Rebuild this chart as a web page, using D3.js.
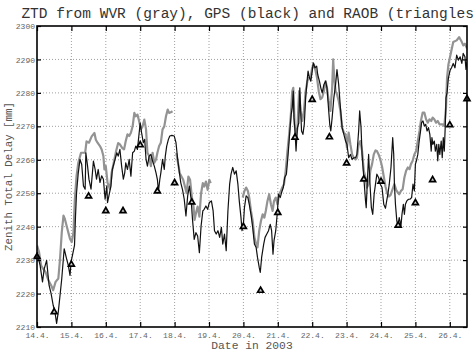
<!DOCTYPE html>
<html>
<head>
<meta charset="utf-8">
<script src="https://cdn.jsdelivr.net/npm/d3@7"></script>
<style>
  body { margin: 0; background: #fff; }
  svg { display: block; }
  text { font-family: "Liberation Mono", "DejaVu Sans Mono", monospace; }
</style>
</head>
<body>
<svg width="474" height="353"></svg>
<script>
// days since 14.4.2003 00:00, ZTD in mm
const gpsDays = [0.00,0.09,0.16,0.21,0.28,0.35,0.41,0.47,0.52,0.57,0.62,0.67,0.72,0.79,0.86,0.91,0.96,0.99,1.03,1.09,1.12,1.15,1.20,1.25,1.30,1.35,1.40,1.42,1.47,1.51,1.57,1.64,1.69,1.73,1.78,1.83,1.88,1.93,1.98,2.03,2.05,2.09,2.15,2.19,2.27,2.32,2.36,2.41,2.46,2.51,2.55,2.58,2.63,2.68,2.73,2.78,2.83,2.87,2.92,2.97,3.00,3.04,3.09,3.13,3.17,3.21,3.26,3.31,3.36,3.41,3.46,3.50,3.53,3.57,3.60,3.65,3.70,3.73,3.77,3.82,3.86,3.92,3.99,4.04,4.09,4.14,4.18,4.23,4.28,4.33,4.38,4.43,4.48,4.52,4.57,4.62,4.67,4.72,4.77,4.82,4.86,4.91,4.96,5.01,5.07,5.12,5.16,5.21,5.26,5.31,5.36,5.40,5.45,5.50,5.55,5.60,5.64,5.69,5.74,5.79,5.84,5.88,5.93,5.96,6.00,6.03,6.08,6.13,6.17,6.22,6.27,6.32,6.37,6.41,6.46,6.49,6.53,6.59,6.63,6.68,6.73,6.78,6.82,6.86,6.89,6.94,6.99,7.02,7.07,7.11,7.16,7.20,7.25,7.30,7.35,7.39,7.42,7.45,7.47,7.50,7.53,7.57,7.61,7.64,7.66,7.69,7.73,7.77,7.81,7.86,7.88,7.92,7.96,8.00,8.03,8.08,8.13,8.16,8.21,8.25,8.29,8.34,8.39,8.43,8.48,8.51,8.54,8.58,8.63,8.68,8.72,8.77,8.82,8.87,8.92,8.97,9.01,9.06,9.11,9.16,9.21,9.26,9.30,9.35,9.38,9.42,9.45,9.50,9.55,9.57,9.60,9.64,9.68,9.72,9.76,9.80,9.84,9.88,9.93,9.98,10.03,10.08,10.13,10.17,10.20,10.24,10.29,10.34,10.37,10.39,10.42,10.46,10.49,10.53,10.58,10.61,10.65,10.68,10.71,10.75,10.80,10.84,10.89,10.93,10.97,11.00,11.03,11.07,11.11,11.15,11.18,11.22,11.26,11.30,11.34,11.38,11.42,11.46,11.48,11.51,11.55,11.58,11.62,11.65,11.68,11.71,11.75,11.78,11.81,11.84,11.87,11.89,11.92,11.96,12.01,12.05,12.10,12.15,12.20,12.25,12.30,12.35,12.39,12.44,12.47,12.50];
const gpsZtd = [2232.4,2228.4,2223.5,2227.4,2229.9,2222.5,2220.0,2216.5,2214.6,2211.1,2214.6,2219.5,2224.5,2233.4,2230.4,2228.4,2225.4,2229.4,2231.4,2234.4,2243.3,2250.2,2256.1,2260.1,2258.6,2252.2,2251.2,2262.1,2258.1,2254.2,2251.2,2259.6,2257.1,2254.2,2257.1,2253.2,2255.2,2254.2,2248.2,2252.2,2247.2,2249.2,2252.2,2257.1,2260.1,2262.1,2261.1,2263.1,2258.1,2254.2,2256.1,2259.1,2257.1,2260.1,2255.1,2262.1,2262.6,2264.1,2263.1,2268.1,2271.0,2268.1,2265.1,2266.1,2260.1,2258.1,2261.1,2261.6,2259.6,2258.1,2256.1,2254.1,2250.6,2254.1,2256.1,2260.1,2257.1,2261.1,2264.1,2266.1,2267.1,2267.3,2267.1,2265.1,2260.1,2256.1,2253.1,2251.1,2248.2,2243.2,2249.2,2252.1,2248.2,2242.2,2236.2,2238.2,2237.2,2232.2,2240.2,2244.7,2245.2,2246.2,2245.2,2247.2,2247.7,2244.7,2238.8,2237.8,2238.8,2236.8,2239.8,2234.8,2237.8,2232.8,2244.7,2252.7,2255.7,2257.7,2255.7,2256.7,2252.7,2247.7,2242.7,2238.8,2240.7,2245.7,2249.2,2248.7,2246.7,2243.7,2239.8,2234.8,2233.8,2230.8,2227.8,2226.3,2230.8,2234.8,2236.8,2237.8,2238.8,2240.7,2238.8,2231.8,2235.8,2238.8,2244.7,2249.7,2248.7,2250.2,2251.7,2254.7,2255.7,2261.6,2268.6,2273.6,2275.6,2280.5,2272.6,2268.6,2262.6,2269.6,2271.0,2281.5,2276.0,2268.6,2267.6,2270.6,2278.6,2284.5,2286.5,2284.5,2283.5,2286.5,2289.0,2287.5,2288.0,2285.5,2283.5,2281.5,2280.0,2282.5,2283.5,2281.5,2274.6,2270.6,2268.6,2272.6,2278.6,2282.5,2287.0,2282.5,2275.6,2269.6,2267.6,2265.6,2264.6,2260.6,2261.6,2260.1,2260.6,2260.6,2261.6,2268.6,2274.6,2269.6,2261.6,2254.7,2247.7,2245.7,2252.7,2261.6,2252.7,2245.7,2243.7,2249.7,2252.7,2255.7,2254.7,2252.7,2251.7,2246.7,2245.5,2248.0,2249.7,2252.7,2257.7,2266.6,2261.6,2252.7,2246.7,2241.7,2240.2,2242.7,2240.2,2243.7,2246.7,2243.7,2246.7,2247.7,2248.2,2248.2,2248.7,2252.7,2250.7,2258.7,2259.7,2261.6,2265.6,2268.6,2271.1,2271.6,2270.1,2270.6,2268.6,2269.6,2267.6,2262.6,2266.6,2264.6,2265.6,2262.6,2264.6,2259.7,2264.6,2261.6,2265.6,2260.6,2266.6,2262.6,2270.6,2278.6,2280.0,2284.5,2286.8,2287.5,2288.8,2287.5,2291.3,2289.8,2290.8,2288.8,2291.8,2290.8,2287.0,2289.3];

// WVR has data gaps (null)
const wvrDays = [0.00,0.06,0.12,0.18,0.25,0.33,0.41,0.47,0.54,0.62,0.67,0.72,0.77,0.81,0.86,0.91,0.96,1.01,1.06,1.10,1.15,1.20,1.28,1.35,1.40,1.44,1.51,1.59,1.67,1.71,1.76,1.83,1.88,1.93,1.96,2.00,2.05,2.12,2.17,2.24,2.30,2.36,2.41,2.48,2.53,2.58,2.63,2.68,2.73,2.78,2.83,2.87,2.92,2.97,3.02,3.07,3.12,3.17,3.21,3.26,3.31,3.36,3.41,3.46,3.50,3.55,3.60,3.65,3.70,3.75,3.80,3.84,3.89,3.94,3.99,4.05,4.10,4.15,4.20,4.25,4.30,4.35,4.40,4.45,4.50,4.55,4.58,4.62,4.67,4.72,4.77,4.82,4.86,4.91,4.96,5.01,5.05,5.50,5.98,6.03,6.08,6.13,6.17,6.22,6.27,6.32,6.37,6.41,6.46,6.51,6.56,6.61,6.65,6.70,6.75,6.80,6.85,6.89,6.94,6.99,7.04,7.09,7.13,7.18,7.23,7.28,7.33,7.38,7.42,7.45,7.49,7.53,7.57,7.62,7.66,7.71,7.76,7.81,7.86,7.90,7.95,8.00,8.05,8.10,8.14,8.19,8.24,8.29,8.34,8.39,8.43,8.48,8.53,8.58,8.61,8.64,8.68,8.72,8.77,8.82,8.87,8.92,8.97,9.01,9.06,9.11,9.16,9.21,9.26,9.30,9.35,9.40,9.45,9.50,9.55,9.59,9.64,9.69,9.74,9.79,9.84,9.88,9.93,9.98,10.03,10.08,10.13,10.18,10.23,10.28,10.33,10.39,10.44,10.49,10.53,10.58,10.63,10.68,10.73,10.78,10.83,10.87,10.92,10.97,11.02,11.07,11.12,11.16,11.21,11.26,11.31,11.36,11.41,11.46,11.50,11.55,11.60,11.65,11.70,11.75,11.79,11.84,11.89,11.92,11.96,12.05,12.10,12.20,12.27,12.35,12.39,12.44,12.50];
const wvrZtd = [2234.4,2232.4,2228.4,2227.4,2226.4,2224.0,2222.5,2221.0,2223.5,2224.5,2230.4,2238.3,2243.3,2242.3,2240.3,2238.3,2236.3,2235.4,2238.3,2248.2,2255.2,2259.1,2262.1,2262.1,2262.1,2265.5,2265.1,2267.0,2268.0,2266.0,2265.1,2264.1,2263.1,2261.1,2257.1,2258.1,2253.2,2251.2,2256.1,2259.6,2262.6,2265.0,2264.6,2263.5,2263.1,2265.6,2267.6,2267.1,2268.1,2270.0,2274.0,2273.0,2273.5,2271.5,2269.1,2270.0,2272.0,2269.1,2262.1,2261.1,2258.1,2262.1,2259.1,2260.1,2262.1,2264.1,2265.1,2269.1,2270.0,2273.0,2275.0,2274.0,2274.2,2274.5,null,2262.0,2259.0,2256.0,2255.0,2254.0,2252.0,2250.0,2255.0,2254.0,2249.0,2246.0,2242.0,2244.0,2246.0,2243.0,2250.0,2253.0,2252.0,2253.5,2251.0,2254.0,2253.0,null,2248.7,2250.7,2251.7,2250.7,2248.7,2244.7,2241.7,2236.8,2234.8,2233.8,2238.8,2241.7,2243.7,2242.7,2244.7,2247.7,2249.7,2246.7,2244.7,2247.7,2248.7,2246.7,2249.7,2250.7,2251.7,2252.7,2256.7,2262.6,2267.6,2273.6,2280.5,2281.5,2270.6,2266.6,2269.6,2280.5,2274.6,2271.6,2274.6,2280.5,2283.5,2284.5,2284.5,2287.5,2288.5,2286.5,2284.5,2280.5,2278.1,2278.6,2280.5,2283.5,2281.5,2277.6,2274.6,2281.5,2290.0,2284.5,2280.5,2279.6,2277.6,2274.6,2269.6,2268.1,2267.6,2263.6,2268.1,2264.6,2261.6,2260.6,2260.1,2260.6,2264.6,2265.6,2262.6,2256.7,2254.7,2251.7,2252.7,2256.7,2258.7,2261.6,2262.8,2262.6,2261.6,2260.1,2258.0,2255.0,2252.0,2250.0,2249.0,2249.5,2251.0,2252.7,2251.0,2250.2,2249.7,2250.7,2251.2,2254.7,2256.7,2257.7,2257.2,2258.7,2259.7,2261.6,2262.6,2265.6,2268.6,2271.6,2274.1,2274.1,2272.1,2271.1,2272.1,2271.6,2272.6,2272.1,2271.1,2271.6,2270.6,2270.6,2270.6,2270.1,2275.6,2284.5,2288.5,2292.8,2295.2,2295.7,2296.7,2295.2,2294.2,2294.7,2293.3];

const raobDays = [0,0.5,1,1.5,2,2.5,3,3.5,4,4.5,6,6.5,7,7.5,8,8.5,9,9.5,10,10.5,11,11.5,12,12.5];
const raobZtd = [2231.0,2214.5,2228.7,2249.1,2244.7,2244.7,2264.4,2250.6,2253.1,2247.3,2240.0,2220.9,2244.2,2266.7,2278.0,2266.8,2259.0,2254.2,2253.5,2240.4,2247.1,2254.0,2270.4,2278.2];

const dayTicks = [0,1,2,3,4,5,6,7,8,9,10,11,12];
const dayLabels = ["14.4.","15.4.","16.4.","17.4.","18.4.","19.4.","20.4.","21.4.","22.4.","23.4.","24.4.","25.4.","26.4."];
const ztdTicks = [2210,2220,2230,2240,2250,2260,2270,2280,2290,2300];

const svg = d3.select("svg");
const plotLeft = 37, plotRight = 467, plotTop = 26, plotBottom = 327;

const x = d3.scaleLinear().domain([0, 12.5]).range([plotLeft, plotRight]);
const y = d3.scaleLinear().domain([2210, 2300]).range([plotBottom, plotTop]);

svg.append("rect").attr("width", 474).attr("height", 353).attr("fill", "#fff");

// dotted grid
svg.append("g").selectAll("line").data(dayTicks.slice(1)).enter().append("line")
  .attr("x1", d => x(d)).attr("x2", d => x(d))
  .attr("y1", plotTop).attr("y2", plotBottom)
  .attr("stroke", "#888").attr("stroke-width", 0.8).attr("stroke-dasharray", "1,2");
svg.append("g").selectAll("line").data(ztdTicks.slice(1, -1)).enter().append("line")
  .attr("x1", plotLeft).attr("x2", plotRight)
  .attr("y1", d => y(d)).attr("y2", d => y(d))
  .attr("stroke", "#888").attr("stroke-width", 0.8).attr("stroke-dasharray", "1,2");

svg.append("clipPath").attr("id", "plotclip").append("rect")
  .attr("x", plotLeft).attr("y", plotTop)
  .attr("width", plotRight - plotLeft).attr("height", plotBottom - plotTop);

const wvr = wvrDays.map((d, i) => [d, wvrZtd[i]]);
const gps = gpsDays.map((d, i) => [d, gpsZtd[i]]);

const line = d3.line()
  .defined(d => d[1] != null)
  .x(d => x(d[0]))
  .y(d => y(d[1]));

svg.append("path").datum(wvr)
  .attr("clip-path", "url(#plotclip)")
  .attr("d", line)
  .attr("fill", "none")
  .attr("stroke", "#939393")
  .attr("stroke-width", 2.2)
  .attr("stroke-linejoin", "round");

svg.append("path").datum(gps)
  .attr("clip-path", "url(#plotclip)")
  .attr("d", line)
  .attr("fill", "none")
  .attr("stroke", "#111")
  .attr("stroke-width", 1.2)
  .attr("stroke-linejoin", "round");

// radiosonde triangles
svg.append("g").selectAll("path").data(raobDays).enter().append("path")
  .attr("transform", (d, i) => "translate(" + x(d) + "," + y(raobZtd[i]) + ")")
  .attr("d", d3.symbol(d3.symbolTriangle, 15))
  .attr("fill", "#ccc")
  .attr("stroke", "#000")
  .attr("stroke-width", 1.7)
  .attr("stroke-linejoin", "miter");

// axes, ticks pointing inwards
const fmtDay = d => dayLabels[dayTicks.indexOf(d)];

svg.append("g").attr("transform", "translate(0," + plotBottom + ")")
  .call(d3.axisBottom(x).tickValues(dayTicks).tickFormat(fmtDay).tickSize(-5).tickPadding(5));
svg.append("g").attr("transform", "translate(0," + plotTop + ")")
  .call(d3.axisTop(x).tickValues(dayTicks).tickFormat("").tickSize(-5));
svg.append("g").attr("transform", "translate(" + plotLeft + ",0)")
  .call(d3.axisLeft(y).tickValues(ztdTicks).tickFormat(d3.format("d")).tickSize(-4).tickPadding(2));
svg.append("g").attr("transform", "translate(" + plotRight + ",0)")
  .call(d3.axisRight(y).tickValues(ztdTicks).tickFormat("").tickSize(-4));

svg.selectAll(".domain").remove();
svg.selectAll(".tick line").attr("stroke", "#000").attr("stroke-width", 1.2);
svg.selectAll(".tick text")
  .attr("fill", "#666")
  .style("font-family", "'Liberation Mono', monospace")
  .style("font-size", "8px");

svg.append("rect")
  .attr("x", plotLeft).attr("y", plotTop)
  .attr("width", plotRight - plotLeft).attr("height", plotBottom - plotTop)
  .attr("fill", "none").attr("stroke", "#000").attr("stroke-width", 1.6);

svg.append("text")
  .attr("x", (plotLeft + plotRight) / 2).attr("y", 18)
  .attr("text-anchor", "middle")
  .attr("fill", "#333")
  .style("font-size", "14.5px")
  .text("ZTD from WVR (gray), GPS (black) and RAOB (triangles)");

svg.append("text")
  .attr("x", (plotLeft + plotRight) / 2).attr("y", 349)
  .attr("text-anchor", "middle")
  .attr("fill", "#555")
  .style("font-size", "11.3px")
  .text("Date in 2003");

svg.append("text")
  .attr("transform", "translate(12," + (plotTop + plotBottom) / 2 + ") rotate(-90)")
  .attr("text-anchor", "middle")
  .attr("fill", "#555")
  .style("font-size", "10.8px")
  .text("Zenith Total Delay [mm]");
</script>
</body>
</html>
